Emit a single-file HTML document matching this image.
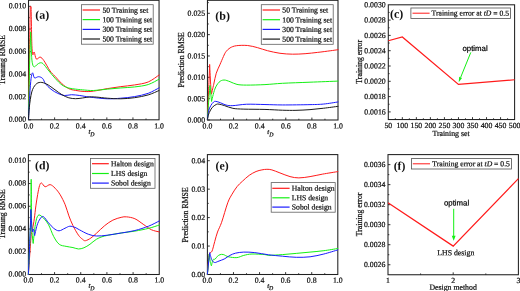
<!DOCTYPE html>
<html lang="en">
<head>
<meta charset="utf-8">
<title>Training and prediction RMSE</title>
<style>
html,body{margin:0;padding:0;background:#fff;}
body{width:520px;height:291px;overflow:hidden;}
svg{display:block;}
text{font-kerning:normal;}
</style>
</head>
<body>
<svg width="520" height="291" viewBox="0 0 520 291">
<rect width="520" height="291" fill="#fff"/>
<rect x="28.5" y="0.3" width="130.55" height="119.5" fill="none" stroke="#202020" stroke-width="1.05"/>
<path d="M54.61 119.8v-2.4M80.72 119.8v-2.4M106.83 119.8v-2.4M132.94 119.8v-2.4" stroke="#202020" stroke-width="0.9" fill="none"/>
<path d="M41.55 119.8v-1.3M67.67 119.8v-1.3M93.78 119.8v-1.3M119.89 119.8v-1.3M146 119.8v-1.3" stroke="#202020" stroke-width="0.9" fill="none"/>
<text x="28.5" y="128.4" font-size="7.8" text-anchor="middle" font-family='"Liberation Serif", "Times New Roman", serif' fill="#111" transform="rotate(0.03 28.5 128.4)" stroke="#111" stroke-width="0.22">0.0</text>
<text x="54.61" y="128.4" font-size="7.8" text-anchor="middle" font-family='"Liberation Serif", "Times New Roman", serif' fill="#111" transform="rotate(0.03 54.61 128.4)" stroke="#111" stroke-width="0.22">0.2</text>
<text x="80.72" y="128.4" font-size="7.8" text-anchor="middle" font-family='"Liberation Serif", "Times New Roman", serif' fill="#111" transform="rotate(0.03 80.72 128.4)" stroke="#111" stroke-width="0.22">0.4</text>
<text x="106.83" y="128.4" font-size="7.8" text-anchor="middle" font-family='"Liberation Serif", "Times New Roman", serif' fill="#111" transform="rotate(0.03 106.83 128.4)" stroke="#111" stroke-width="0.22">0.6</text>
<text x="132.94" y="128.4" font-size="7.8" text-anchor="middle" font-family='"Liberation Serif", "Times New Roman", serif' fill="#111" transform="rotate(0.03 132.94 128.4)" stroke="#111" stroke-width="0.22">0.8</text>
<text x="159.05" y="128.4" font-size="7.8" text-anchor="middle" font-family='"Liberation Serif", "Times New Roman", serif' fill="#111" transform="rotate(0.03 159.05 128.4)" stroke="#111" stroke-width="0.22">1.0</text>
<path d="M28.5 119.8h2.4M28.5 97.1h2.4M28.5 74.4h2.4M28.5 51.7h2.4M28.5 29h2.4M28.5 6.3h2.4" stroke="#202020" stroke-width="0.9" fill="none"/>
<path d="M28.5 108.45h1.3M28.5 85.75h1.3M28.5 63.05h1.3M28.5 40.35h1.3M28.5 17.65h1.3" stroke="#202020" stroke-width="0.9" fill="none"/>
<text x="26.2" y="121.85" font-size="7.8" text-anchor="end" font-family='"Liberation Serif", "Times New Roman", serif' fill="#111" transform="rotate(0.03 26.2 121.85)" stroke="#111" stroke-width="0.22">0.000</text>
<text x="26.2" y="99.15" font-size="7.8" text-anchor="end" font-family='"Liberation Serif", "Times New Roman", serif' fill="#111" transform="rotate(0.03 26.2 99.15)" stroke="#111" stroke-width="0.22">0.002</text>
<text x="26.2" y="76.45" font-size="7.8" text-anchor="end" font-family='"Liberation Serif", "Times New Roman", serif' fill="#111" transform="rotate(0.03 26.2 76.45)" stroke="#111" stroke-width="0.22">0.004</text>
<text x="26.2" y="53.75" font-size="7.8" text-anchor="end" font-family='"Liberation Serif", "Times New Roman", serif' fill="#111" transform="rotate(0.03 26.2 53.75)" stroke="#111" stroke-width="0.22">0.006</text>
<text x="26.2" y="31.05" font-size="7.8" text-anchor="end" font-family='"Liberation Serif", "Times New Roman", serif' fill="#111" transform="rotate(0.03 26.2 31.05)" stroke="#111" stroke-width="0.22">0.008</text>
<text x="26.2" y="8.35" font-size="7.8" text-anchor="end" font-family='"Liberation Serif", "Times New Roman", serif' fill="#111" transform="rotate(0.03 26.2 8.35)" stroke="#111" stroke-width="0.22">0.010</text>
<text x="5.4" y="59.8" font-size="7.8" text-anchor="middle" font-family='"Liberation Serif", "Times New Roman", serif' fill="#111" transform="rotate(-90 5.4 59.8)" stroke="#111" stroke-width="0.22">Training RMSE</text>
<text x="88.38" y="133.7" font-size="7.8" text-anchor="start" font-family='"Liberation Serif", "Times New Roman", serif' fill="#111" transform="rotate(0.03 88.38 133.7)" stroke="#111" stroke-width="0.22"><tspan font-style="italic" font-size="6.9">t</tspan><tspan font-style="italic" font-size="5.8" dy="2.6">D</tspan></text>
<path d="M28.5 119.5C28.5 119.5 29.4 59.36 29.69 40.55C29.96 23.57 30.29 6.6 30.29 6.6L31.09 6.6C31.09 6.6 31.6 37.51 31.88 45.53C32.04 50.12 32.4 53.59 32.78 54.69C33.16 55.78 33.57 51.37 34.17 52.1C34.77 52.83 35.37 58.24 36.36 59.07C37.36 59.9 38.88 56.81 40.14 57.08C41.4 57.34 42.41 58.54 43.92 60.66C45.58 62.98 48.24 68.39 50.09 71.01C51.95 73.64 53.09 74.27 55.07 76.39C57.04 78.51 59.64 81.72 61.93 83.76C64.22 85.8 66.51 87.52 68.8 88.64C71.09 89.75 73 89.95 75.67 90.43C78.34 90.91 81.85 91.41 84.82 91.52C87.79 91.64 89.75 91.61 93.48 91.12C97.21 90.64 102.65 89.38 107.21 88.64C111.77 87.89 116.28 87.26 120.84 86.64C125.4 86.03 130.01 85.73 134.57 84.95C139.13 84.17 144.12 83.62 148.2 81.97C152.28 80.31 157.24 76.16 159.05 75" fill="none" stroke="#ff1a1a" stroke-width="1.0" stroke-linejoin="round" stroke-linecap="round"/>
<path d="M28.5 119.5C28.5 119.5 29.33 75.06 29.69 60.46C30.05 46.17 30.69 31.89 30.69 31.89C30.69 31.89 31.32 51.91 31.68 57.47C31.94 61.39 32.41 63.68 32.88 65.24C33.2 66.32 33.77 66.93 34.47 66.83C35.17 66.73 36.15 65.31 37.06 64.64C37.97 63.98 38.95 63.02 39.94 62.85C40.94 62.68 41.82 62.6 43.03 63.65C44.4 64.84 46.2 67.58 48.2 70.02C50.21 72.46 52.78 75.79 55.07 78.28C57.36 80.77 59.64 83.33 61.93 84.95C64.22 86.58 66.51 87.34 68.8 88.04C71.09 88.74 73.39 88.84 75.67 89.13C77.94 89.43 79.46 89.6 82.43 89.83C85.4 90.06 89.35 90.64 93.48 90.53C97.61 90.41 102.65 89.57 107.21 89.13C111.77 88.7 116.28 88.3 120.84 87.94C125.4 87.57 130.01 87.51 134.57 86.94C139.13 86.38 144.12 85.85 148.2 84.55C152.28 83.26 157.24 80.07 159.05 79.18" fill="none" stroke="#14f014" stroke-width="1.0" stroke-linejoin="round" stroke-linecap="round"/>
<path d="M28.5 119.5C28.5 119.5 29.26 102.16 29.69 95.31C30.13 88.45 30.61 82.13 31.09 78.38C31.45 75.52 32.02 72.89 32.58 72.81C33.14 72.72 33.46 77.24 34.47 77.88C35.48 78.53 37.27 76.57 38.65 76.69C40.03 76.8 41.58 77.4 42.73 78.58C43.87 79.76 44.14 81.98 45.52 83.76C46.89 85.53 48.93 87.62 50.99 89.23C53.04 90.84 55.58 92.37 57.85 93.41C60.13 94.46 62.35 95.29 64.62 95.51C66.89 95.72 68.97 94.71 71.49 94.71C74.01 94.71 76.69 95.11 79.74 95.51C82.8 95.9 85.22 96.55 89.79 97.1C94.37 97.65 102.03 98.61 107.21 98.79C112.38 98.97 116.28 98.56 120.84 98.19C125.4 97.83 130.01 97.41 134.57 96.6C139.13 95.79 144.12 94.78 148.2 93.32C152.28 91.86 157.24 88.75 159.05 87.84" fill="none" stroke="#1a1aff" stroke-width="1.0" stroke-linejoin="round" stroke-linecap="round"/>
<path d="M28.5 119.5C28.5 119.5 28.75 111.85 29.3 107.25C29.84 102.66 30.72 95.7 31.78 91.92C32.85 88.14 34.22 86.15 35.66 84.55C37.11 82.96 38.58 82.43 40.44 82.36C42.3 82.3 44.37 82.91 46.81 84.16C49.25 85.4 52.55 88.07 55.07 89.83C57.59 91.59 59.64 93.38 61.93 94.71C64.22 96.04 66.51 97.13 68.8 97.8C71.09 98.46 73.39 98.66 75.67 98.69C77.94 98.72 80.08 98.29 82.43 97.99C84.79 97.7 87.41 97.05 89.79 96.9C92.18 96.75 93.86 96.88 96.76 97.1C99.66 97.31 103.19 97.91 107.21 98.19C111.22 98.48 116.28 98.87 120.84 98.79C125.4 98.71 130.01 98.34 134.57 97.7C139.13 97.05 144.12 96.1 148.2 94.91C152.28 93.71 157.24 91.26 159.05 90.53" fill="none" stroke="#1a1a1a" stroke-width="1.0" stroke-linejoin="round" stroke-linecap="round"/>
<rect x="81.4" y="4.7" width="71.8" height="39.5" fill="#fff" stroke="#606060" stroke-width="0.8"/>
<path d="M82.6 10H100" stroke="#ff1a1a" stroke-width="1.2"/>
<text x="102.4" y="12.7" font-size="7.66" text-anchor="start" font-family='"Liberation Serif", "Times New Roman", serif' fill="#111" transform="rotate(0.03 102.4 12.7)" stroke="#111" stroke-width="0.22">50 Training set</text>
<path d="M82.6 19.6H100" stroke="#14f014" stroke-width="1.2"/>
<text x="102.4" y="22.25" font-size="7.66" text-anchor="start" font-family='"Liberation Serif", "Times New Roman", serif' fill="#111" transform="rotate(0.03 102.4 22.25)" stroke="#111" stroke-width="0.22">100 Training set</text>
<path d="M82.6 29.4H100" stroke="#1a1aff" stroke-width="1.2"/>
<text x="102.4" y="31.85" font-size="7.66" text-anchor="start" font-family='"Liberation Serif", "Times New Roman", serif' fill="#111" transform="rotate(0.03 102.4 31.85)" stroke="#111" stroke-width="0.22">300 Training set</text>
<path d="M82.6 39H100" stroke="#1a1a1a" stroke-width="1.2"/>
<text x="102.4" y="41.4" font-size="7.66" text-anchor="start" font-family='"Liberation Serif", "Times New Roman", serif' fill="#111" transform="rotate(0.03 102.4 41.4)" stroke="#111" stroke-width="0.22">500 Training set</text>
<text x="35.3" y="18.8" font-size="12" text-anchor="start" font-family='"Liberation Serif", "Times New Roman", serif' fill="#111" font-weight="bold" transform="rotate(0.03 35.3 18.8)">(a)</text>
<rect x="207.45" y="0.3" width="130.55" height="119.7" fill="none" stroke="#202020" stroke-width="1.05"/>
<path d="M233.56 120v-2.4M259.67 120v-2.4M285.78 120v-2.4M311.89 120v-2.4" stroke="#202020" stroke-width="0.9" fill="none"/>
<path d="M220.5 120v-1.3M246.62 120v-1.3M272.73 120v-1.3M298.83 120v-1.3M324.94 120v-1.3" stroke="#202020" stroke-width="0.9" fill="none"/>
<text x="207.45" y="128.6" font-size="7.8" text-anchor="middle" font-family='"Liberation Serif", "Times New Roman", serif' fill="#111" transform="rotate(0.03 207.45 128.6)" stroke="#111" stroke-width="0.22">0.0</text>
<text x="233.56" y="128.6" font-size="7.8" text-anchor="middle" font-family='"Liberation Serif", "Times New Roman", serif' fill="#111" transform="rotate(0.03 233.56 128.6)" stroke="#111" stroke-width="0.22">0.2</text>
<text x="259.67" y="128.6" font-size="7.8" text-anchor="middle" font-family='"Liberation Serif", "Times New Roman", serif' fill="#111" transform="rotate(0.03 259.67 128.6)" stroke="#111" stroke-width="0.22">0.4</text>
<text x="285.78" y="128.6" font-size="7.8" text-anchor="middle" font-family='"Liberation Serif", "Times New Roman", serif' fill="#111" transform="rotate(0.03 285.78 128.6)" stroke="#111" stroke-width="0.22">0.6</text>
<text x="311.89" y="128.6" font-size="7.8" text-anchor="middle" font-family='"Liberation Serif", "Times New Roman", serif' fill="#111" transform="rotate(0.03 311.89 128.6)" stroke="#111" stroke-width="0.22">0.8</text>
<text x="338" y="128.6" font-size="7.8" text-anchor="middle" font-family='"Liberation Serif", "Times New Roman", serif' fill="#111" transform="rotate(0.03 338 128.6)" stroke="#111" stroke-width="0.22">1.0</text>
<path d="M207.45 120h2.4M207.45 98.66h2.4M207.45 77.32h2.4M207.45 55.98h2.4M207.45 34.64h2.4M207.45 13.3h2.4" stroke="#202020" stroke-width="0.9" fill="none"/>
<path d="M207.45 109.33h1.3M207.45 87.99h1.3M207.45 66.65h1.3M207.45 45.31h1.3M207.45 23.97h1.3M207.45 2.63h1.3" stroke="#202020" stroke-width="0.9" fill="none"/>
<text x="205.15" y="122.5" font-size="7.8" text-anchor="end" font-family='"Liberation Serif", "Times New Roman", serif' fill="#111" transform="rotate(0.03 205.15 122.5)" stroke="#111" stroke-width="0.22">0.000</text>
<text x="205.15" y="101.16" font-size="7.8" text-anchor="end" font-family='"Liberation Serif", "Times New Roman", serif' fill="#111" transform="rotate(0.03 205.15 101.16)" stroke="#111" stroke-width="0.22">0.005</text>
<text x="205.15" y="79.82" font-size="7.8" text-anchor="end" font-family='"Liberation Serif", "Times New Roman", serif' fill="#111" transform="rotate(0.03 205.15 79.82)" stroke="#111" stroke-width="0.22">0.010</text>
<text x="205.15" y="58.48" font-size="7.8" text-anchor="end" font-family='"Liberation Serif", "Times New Roman", serif' fill="#111" transform="rotate(0.03 205.15 58.48)" stroke="#111" stroke-width="0.22">0.015</text>
<text x="205.15" y="37.14" font-size="7.8" text-anchor="end" font-family='"Liberation Serif", "Times New Roman", serif' fill="#111" transform="rotate(0.03 205.15 37.14)" stroke="#111" stroke-width="0.22">0.020</text>
<text x="205.15" y="15.8" font-size="7.8" text-anchor="end" font-family='"Liberation Serif", "Times New Roman", serif' fill="#111" transform="rotate(0.03 205.15 15.8)" stroke="#111" stroke-width="0.22">0.025</text>
<text x="184" y="59.8" font-size="7.8" text-anchor="middle" font-family='"Liberation Serif", "Times New Roman", serif' fill="#111" transform="rotate(-90 184 59.8)" stroke="#111" stroke-width="0.22">Prediction RMSE</text>
<text x="267.33" y="133.9" font-size="7.8" text-anchor="start" font-family='"Liberation Serif", "Times New Roman", serif' fill="#111" transform="rotate(0.03 267.33 133.9)" stroke="#111" stroke-width="0.22"><tspan font-style="italic" font-size="6.9">t</tspan><tspan font-style="italic" font-size="5.8" dy="2.6">D</tspan></text>
<path d="M207.45 119.5C207.45 119.5 208.28 99.36 208.65 90.18C209.02 81.01 209.65 64.45 209.65 64.45C209.65 64.45 210.35 79.25 210.65 84.2C210.95 89.15 211.45 94.17 211.45 94.17C211.45 94.17 212.95 87.69 213.75 84.2C214.55 80.71 215.24 76.45 216.25 73.23C217.27 70.01 218.65 67.65 219.85 64.85C221.06 62.06 222.44 58.67 223.46 56.48C224.47 54.28 224.86 53.12 225.96 51.69C227.06 50.26 228.32 48.9 230.06 47.9C231.79 46.9 233.43 46.11 236.36 45.71C239.3 45.31 244.11 45.18 247.67 45.51C251.22 45.84 254.37 46.84 257.67 47.7C260.97 48.57 263.75 49.76 267.47 50.69C271.19 51.62 275.79 52.7 279.98 53.29C284.16 53.87 288.4 54.12 292.58 54.18C296.77 54.25 300.9 53.98 305.09 53.69C309.27 53.39 313.51 52.87 317.69 52.39C321.88 51.91 326.81 51.24 330.2 50.79C333.58 50.34 336.7 49.88 338 49.7" fill="none" stroke="#ff1a1a" stroke-width="1.0" stroke-linejoin="round" stroke-linecap="round"/>
<path d="M207.45 119.5C207.45 119.5 208.33 105.82 208.75 100.15C209.17 94.49 209.95 85.5 209.95 85.5L211.55 101.45C211.55 101.45 213.6 92.29 214.85 89.09C216.1 85.88 217.54 83.72 219.05 82.2C220.57 80.69 222.12 80.09 223.96 80.01C225.79 79.93 227.89 80.97 230.06 81.71C232.23 82.44 234.21 83.83 236.96 84.4C239.71 84.96 241.9 85.06 246.56 85.1C251.23 85.13 258.99 84.9 264.97 84.6C270.96 84.3 274.98 83.7 282.48 83.3C289.98 82.9 300.74 82.57 309.99 82.2C319.24 81.84 333.33 81.29 338 81.11" fill="none" stroke="#14f014" stroke-width="1.0" stroke-linejoin="round" stroke-linecap="round"/>
<path d="M207.45 119.5C207.45 119.5 208 113.43 208.55 111.12C209.1 108.81 209.92 107.15 210.75 105.64C211.58 104.13 212.72 102.76 213.55 102.05C214.39 101.33 214.6 101.23 215.75 101.35C216.9 101.47 218.75 102.13 220.45 102.75C222.16 103.36 223.89 104.56 225.96 105.04C228.02 105.52 229.43 105.77 232.86 105.64C236.29 105.51 241.21 104.43 246.56 104.24C251.92 104.06 258.99 104.43 264.97 104.54C270.96 104.66 274.98 104.92 282.48 104.94C289.98 104.96 303.12 104.79 309.99 104.64C316.85 104.49 319.03 104.49 323.69 104.04C328.36 103.59 335.62 102.3 338 101.95" fill="none" stroke="#1a1aff" stroke-width="1.0" stroke-linejoin="round" stroke-linecap="round"/>
<path d="M207.45 119.5C207.45 119.5 207.93 116.79 208.25 115.61C208.57 114.43 208.7 113.77 209.35 112.42C210 111.07 211 108.86 212.15 107.53C213.3 106.2 215.1 105.01 216.25 104.44C217.4 103.88 217.67 103.94 219.05 104.14C220.44 104.34 222.26 104.94 224.56 105.64C226.86 106.34 229.64 107.75 232.86 108.33C236.08 108.91 238.51 108.95 243.86 109.13C249.22 109.31 258.54 109.25 264.97 109.43C271.41 109.61 277.31 110.08 282.48 110.23C287.65 110.38 291.4 110.43 295.98 110.33C300.57 110.23 305.37 109.98 309.99 109.63C314.61 109.28 319.03 108.78 323.69 108.23C328.36 107.68 335.62 106.65 338 106.34" fill="none" stroke="#1a1a1a" stroke-width="1.0" stroke-linejoin="round" stroke-linecap="round"/>
<rect x="261.3" y="4.7" width="71.9" height="39.6" fill="#fff" stroke="#606060" stroke-width="0.8"/>
<path d="M262.6 10H280" stroke="#ff1a1a" stroke-width="1.2"/>
<text x="282.3" y="12.6" font-size="7.66" text-anchor="start" font-family='"Liberation Serif", "Times New Roman", serif' fill="#111" transform="rotate(0.03 282.3 12.6)" stroke="#111" stroke-width="0.22">50 Training set</text>
<path d="M262.6 19.7H280" stroke="#14f014" stroke-width="1.2"/>
<text x="282.3" y="22.4" font-size="7.66" text-anchor="start" font-family='"Liberation Serif", "Times New Roman", serif' fill="#111" transform="rotate(0.03 282.3 22.4)" stroke="#111" stroke-width="0.22">100 Training set</text>
<path d="M262.6 29.4H280" stroke="#1a1aff" stroke-width="1.2"/>
<text x="282.3" y="32.1" font-size="7.66" text-anchor="start" font-family='"Liberation Serif", "Times New Roman", serif' fill="#111" transform="rotate(0.03 282.3 32.1)" stroke="#111" stroke-width="0.22">300 Training set</text>
<path d="M262.6 39.1H280" stroke="#1a1a1a" stroke-width="1.2"/>
<text x="282.3" y="41.8" font-size="7.66" text-anchor="start" font-family='"Liberation Serif", "Times New Roman", serif' fill="#111" transform="rotate(0.03 282.3 41.8)" stroke="#111" stroke-width="0.22">500 Training set</text>
<text x="215.3" y="19.7" font-size="12" text-anchor="start" font-family='"Liberation Serif", "Times New Roman", serif' fill="#111" font-weight="bold" transform="rotate(0.03 215.3 19.7)">(b)</text>
<rect x="388.3" y="4.8" width="126.3" height="114.75" fill="none" stroke="#202020" stroke-width="1.05"/>
<path d="M402.33 119.55v-2.4M416.37 119.55v-2.4M430.4 119.55v-2.4M444.43 119.55v-2.4M458.47 119.55v-2.4M472.5 119.55v-2.4M486.53 119.55v-2.4M500.57 119.55v-2.4" stroke="#202020" stroke-width="0.9" fill="none"/>
<path d="M395.32 119.55v-1.3M409.35 119.55v-1.3M423.38 119.55v-1.3M437.42 119.55v-1.3M451.45 119.55v-1.3M465.48 119.55v-1.3M479.52 119.55v-1.3M493.55 119.55v-1.3M507.58 119.55v-1.3" stroke="#202020" stroke-width="0.9" fill="none"/>
<text x="388.3" y="128.05" font-size="7.8" text-anchor="middle" font-family='"Liberation Serif", "Times New Roman", serif' fill="#111" transform="rotate(0.03 388.3 128.05)" stroke="#111" stroke-width="0.22">50</text>
<text x="402.33" y="128.05" font-size="7.8" text-anchor="middle" font-family='"Liberation Serif", "Times New Roman", serif' fill="#111" transform="rotate(0.03 402.33 128.05)" stroke="#111" stroke-width="0.22">100</text>
<text x="416.37" y="128.05" font-size="7.8" text-anchor="middle" font-family='"Liberation Serif", "Times New Roman", serif' fill="#111" transform="rotate(0.03 416.37 128.05)" stroke="#111" stroke-width="0.22">150</text>
<text x="430.4" y="128.05" font-size="7.8" text-anchor="middle" font-family='"Liberation Serif", "Times New Roman", serif' fill="#111" transform="rotate(0.03 430.4 128.05)" stroke="#111" stroke-width="0.22">200</text>
<text x="444.43" y="128.05" font-size="7.8" text-anchor="middle" font-family='"Liberation Serif", "Times New Roman", serif' fill="#111" transform="rotate(0.03 444.43 128.05)" stroke="#111" stroke-width="0.22">250</text>
<text x="458.47" y="128.05" font-size="7.8" text-anchor="middle" font-family='"Liberation Serif", "Times New Roman", serif' fill="#111" transform="rotate(0.03 458.47 128.05)" stroke="#111" stroke-width="0.22">300</text>
<text x="472.5" y="128.05" font-size="7.8" text-anchor="middle" font-family='"Liberation Serif", "Times New Roman", serif' fill="#111" transform="rotate(0.03 472.5 128.05)" stroke="#111" stroke-width="0.22">350</text>
<text x="486.53" y="128.05" font-size="7.8" text-anchor="middle" font-family='"Liberation Serif", "Times New Roman", serif' fill="#111" transform="rotate(0.03 486.53 128.05)" stroke="#111" stroke-width="0.22">400</text>
<text x="500.57" y="128.05" font-size="7.8" text-anchor="middle" font-family='"Liberation Serif", "Times New Roman", serif' fill="#111" transform="rotate(0.03 500.57 128.05)" stroke="#111" stroke-width="0.22">450</text>
<text x="514.6" y="128.05" font-size="7.8" text-anchor="middle" font-family='"Liberation Serif", "Times New Roman", serif' fill="#111" transform="rotate(0.03 514.6 128.05)" stroke="#111" stroke-width="0.22">500</text>
<path d="M388.3 111.9h2.4M388.3 96.6h2.4M388.3 81.3h2.4M388.3 66h2.4M388.3 50.7h2.4M388.3 35.4h2.4M388.3 20.1h2.4" stroke="#202020" stroke-width="0.9" fill="none"/>
<path d="M388.3 104.25h1.3M388.3 88.95h1.3M388.3 73.65h1.3M388.3 58.35h1.3M388.3 43.05h1.3M388.3 27.75h1.3M388.3 12.45h1.3" stroke="#202020" stroke-width="0.9" fill="none"/>
<text x="385.7" y="114.4" font-size="7.8" text-anchor="end" font-family='"Liberation Serif", "Times New Roman", serif' fill="#111" transform="rotate(0.03 385.7 114.4)" stroke="#111" stroke-width="0.22">0.0016</text>
<text x="385.7" y="99.1" font-size="7.8" text-anchor="end" font-family='"Liberation Serif", "Times New Roman", serif' fill="#111" transform="rotate(0.03 385.7 99.1)" stroke="#111" stroke-width="0.22">0.0018</text>
<text x="385.7" y="83.8" font-size="7.8" text-anchor="end" font-family='"Liberation Serif", "Times New Roman", serif' fill="#111" transform="rotate(0.03 385.7 83.8)" stroke="#111" stroke-width="0.22">0.0020</text>
<text x="385.7" y="68.5" font-size="7.8" text-anchor="end" font-family='"Liberation Serif", "Times New Roman", serif' fill="#111" transform="rotate(0.03 385.7 68.5)" stroke="#111" stroke-width="0.22">0.0022</text>
<text x="385.7" y="53.2" font-size="7.8" text-anchor="end" font-family='"Liberation Serif", "Times New Roman", serif' fill="#111" transform="rotate(0.03 385.7 53.2)" stroke="#111" stroke-width="0.22">0.0024</text>
<text x="385.7" y="37.9" font-size="7.8" text-anchor="end" font-family='"Liberation Serif", "Times New Roman", serif' fill="#111" transform="rotate(0.03 385.7 37.9)" stroke="#111" stroke-width="0.22">0.0026</text>
<text x="385.7" y="22.6" font-size="7.8" text-anchor="end" font-family='"Liberation Serif", "Times New Roman", serif' fill="#111" transform="rotate(0.03 385.7 22.6)" stroke="#111" stroke-width="0.22">0.0028</text>
<text x="385.7" y="7.3" font-size="7.8" text-anchor="end" font-family='"Liberation Serif", "Times New Roman", serif' fill="#111" transform="rotate(0.03 385.7 7.3)" stroke="#111" stroke-width="0.22">0.0030</text>
<text x="362.1" y="61.8" font-size="7.8" text-anchor="middle" font-family='"Liberation Serif", "Times New Roman", serif' fill="#111" transform="rotate(-90 362.1 61.8)" stroke="#111" stroke-width="0.22">Training error</text>
<text x="451" y="136" font-size="7.8" text-anchor="middle" font-family='"Liberation Serif", "Times New Roman", serif' fill="#111" transform="rotate(0.03 451 136)" stroke="#111" stroke-width="0.22">Training set</text>
<polyline points="388.3,40.75 402.33,36.93 458.47,84.36 514.6,79.77" fill="none" stroke="#ff1a1a" stroke-width="1.2" stroke-linejoin="miter"/>
<rect x="410.9" y="8.0" width="99.6" height="10.4" fill="#fff" stroke="#505050" stroke-width="0.8"/>
<path d="M412.5 13.2H429.6" stroke="#ff1a1a" stroke-width="1"/>
<text x="431.6" y="15.6" font-size="7.65" text-anchor="start" font-family='"Liberation Serif", "Times New Roman", serif' fill="#111" transform="rotate(0.03 431.6 15.6)" stroke="#111" stroke-width="0.22">Training error at <tspan font-style="italic">tD</tspan> = 0.5</text>
<text x="389.9" y="17.7" font-size="12" text-anchor="start" font-family='"Liberation Serif", "Times New Roman", serif' fill="#111" font-weight="bold" transform="rotate(0.03 389.9 17.7)">(c)</text>
<text x="475.1" y="51" font-size="7.8" text-anchor="middle" font-family='"Liberation Sans", Arial, sans-serif' fill="#000" transform="rotate(0.03 475.1 51)" stroke="#000" stroke-width="0.22">optimal</text>
<path d="M470.8 52.4L460.6 77.5" stroke="#14f014" stroke-width="1" fill="none"/>
<path d="M458.7 82.2L459.2 76.8L462.0 78.0Z" fill="#14f014"/>
<rect x="28.4" y="154.6" width="130.85" height="119.9" fill="none" stroke="#202020" stroke-width="1.05"/>
<path d="M54.57 274.5v-2.4M80.74 274.5v-2.4M106.91 274.5v-2.4M133.08 274.5v-2.4" stroke="#202020" stroke-width="0.9" fill="none"/>
<path d="M41.48 274.5v-1.3M67.66 274.5v-1.3M93.82 274.5v-1.3M120 274.5v-1.3M146.16 274.5v-1.3" stroke="#202020" stroke-width="0.9" fill="none"/>
<text x="28.4" y="282.6" font-size="7.8" text-anchor="middle" font-family='"Liberation Serif", "Times New Roman", serif' fill="#111" transform="rotate(0.03 28.4 282.6)" stroke="#111" stroke-width="0.22">0.0</text>
<text x="54.57" y="282.6" font-size="7.8" text-anchor="middle" font-family='"Liberation Serif", "Times New Roman", serif' fill="#111" transform="rotate(0.03 54.57 282.6)" stroke="#111" stroke-width="0.22">0.2</text>
<text x="80.74" y="282.6" font-size="7.8" text-anchor="middle" font-family='"Liberation Serif", "Times New Roman", serif' fill="#111" transform="rotate(0.03 80.74 282.6)" stroke="#111" stroke-width="0.22">0.4</text>
<text x="106.91" y="282.6" font-size="7.8" text-anchor="middle" font-family='"Liberation Serif", "Times New Roman", serif' fill="#111" transform="rotate(0.03 106.91 282.6)" stroke="#111" stroke-width="0.22">0.6</text>
<text x="133.08" y="282.6" font-size="7.8" text-anchor="middle" font-family='"Liberation Serif", "Times New Roman", serif' fill="#111" transform="rotate(0.03 133.08 282.6)" stroke="#111" stroke-width="0.22">0.8</text>
<text x="159.25" y="282.6" font-size="7.8" text-anchor="middle" font-family='"Liberation Serif", "Times New Roman", serif' fill="#111" transform="rotate(0.03 159.25 282.6)" stroke="#111" stroke-width="0.22">1.0</text>
<path d="M28.4 274.5h2.4M28.4 251.76h2.4M28.4 229.02h2.4M28.4 206.28h2.4M28.4 183.54h2.4M28.4 160.8h2.4" stroke="#202020" stroke-width="0.9" fill="none"/>
<path d="M28.4 263.13h1.3M28.4 240.39h1.3M28.4 217.65h1.3M28.4 194.91h1.3M28.4 172.17h1.3" stroke="#202020" stroke-width="0.9" fill="none"/>
<text x="26.1" y="276.55" font-size="7.8" text-anchor="end" font-family='"Liberation Serif", "Times New Roman", serif' fill="#111" transform="rotate(0.03 26.1 276.55)" stroke="#111" stroke-width="0.22">0.000</text>
<text x="26.1" y="253.81" font-size="7.8" text-anchor="end" font-family='"Liberation Serif", "Times New Roman", serif' fill="#111" transform="rotate(0.03 26.1 253.81)" stroke="#111" stroke-width="0.22">0.002</text>
<text x="26.1" y="231.07" font-size="7.8" text-anchor="end" font-family='"Liberation Serif", "Times New Roman", serif' fill="#111" transform="rotate(0.03 26.1 231.07)" stroke="#111" stroke-width="0.22">0.004</text>
<text x="26.1" y="208.33" font-size="7.8" text-anchor="end" font-family='"Liberation Serif", "Times New Roman", serif' fill="#111" transform="rotate(0.03 26.1 208.33)" stroke="#111" stroke-width="0.22">0.006</text>
<text x="26.1" y="185.59" font-size="7.8" text-anchor="end" font-family='"Liberation Serif", "Times New Roman", serif' fill="#111" transform="rotate(0.03 26.1 185.59)" stroke="#111" stroke-width="0.22">0.008</text>
<text x="26.1" y="162.85" font-size="7.8" text-anchor="end" font-family='"Liberation Serif", "Times New Roman", serif' fill="#111" transform="rotate(0.03 26.1 162.85)" stroke="#111" stroke-width="0.22">0.010</text>
<text x="5" y="214" font-size="7.8" text-anchor="middle" font-family='"Liberation Serif", "Times New Roman", serif' fill="#111" transform="rotate(-90 5 214)" stroke="#111" stroke-width="0.22">Training RMSE</text>
<text x="88.42" y="287.7" font-size="7.8" text-anchor="start" font-family='"Liberation Serif", "Times New Roman", serif' fill="#111" transform="rotate(0.03 88.42 287.7)" stroke="#111" stroke-width="0.22"><tspan font-style="italic" font-size="6.9">t</tspan><tspan font-style="italic" font-size="5.8" dy="2.6">D</tspan></text>
<path d="M28.4 274.5C28.4 274.5 29.31 260.95 29.8 254.25C30.28 247.55 30.81 238.63 31.29 234.31C31.63 231.25 32.19 230.9 32.69 228.32C33.19 225.75 33.75 222.59 34.28 218.85C34.82 215.11 35.31 209.95 35.88 205.88C36.45 201.81 37.06 197.8 37.68 194.41C38.29 191.02 38.94 187.45 39.57 185.53C40.07 184.01 40.53 182.74 41.47 182.94C42.4 183.14 43.71 186.45 45.16 186.73C46.6 187.01 48.48 184.39 50.14 184.64C51.8 184.89 53.45 186.53 55.13 188.23C56.81 189.92 58.54 192.05 60.21 194.81C61.89 197.57 63.76 201.28 65.2 204.78C66.65 208.29 67.6 212.38 68.89 215.85C70.19 219.33 71.39 222.4 72.98 225.63C74.58 228.85 76.87 232.93 78.47 235.2C80.06 237.48 81.39 238.38 82.56 239.29C83.72 240.21 84.05 240.91 85.45 240.69C86.84 240.47 89.1 239.23 90.93 238C92.76 236.77 94.12 235.37 96.42 233.31C98.71 231.25 101.95 227.82 104.7 225.63C107.44 223.43 110.13 221.52 112.87 220.14C115.62 218.76 118.86 217.9 121.15 217.35C123.45 216.8 124.34 216.62 126.64 216.85C128.93 217.08 132.16 217.52 134.92 218.75C137.67 219.98 140.45 222.4 143.19 224.23C145.94 226.06 148.69 228.44 151.37 229.72C154.05 231 157.94 231.55 159.25 231.91" fill="none" stroke="#ff1a1a" stroke-width="1.0" stroke-linejoin="round" stroke-linecap="round"/>
<path d="M28.4 274.5C28.4 274.5 30.33 231.73 30.79 215.85C31.26 199.98 31.19 179.25 31.19 179.25C31.19 179.25 31.36 215.12 31.69 225.83C31.97 234.68 33.19 243.48 33.19 243.48C33.19 243.48 34.57 229 35.38 224.33C36.18 219.76 36.96 216.72 38.07 215.46C39.19 214.19 40.48 215.38 42.06 216.75C43.76 218.22 46.3 220.92 48.25 224.23C50.19 227.54 51.9 233.26 53.73 236.6C55.56 239.94 57.16 242.65 59.22 244.28C61.28 245.91 63.81 245.83 66.1 246.37C68.39 246.92 70.92 247.14 72.98 247.57C75.04 248 76.64 248.93 78.47 248.97C80.29 249 82.04 248.55 83.95 247.77C85.86 246.99 87.86 245.69 89.94 244.28C92.01 242.87 93.96 240.67 96.42 239.29C98.88 237.91 100.57 237.05 104.7 236C108.82 234.95 116.12 233.82 121.15 233.01C126.19 232.19 130.33 231.9 134.92 231.11C139.5 230.33 144.62 229.34 148.68 228.32C152.73 227.31 157.49 225.58 159.25 225.03" fill="none" stroke="#14f014" stroke-width="1.0" stroke-linejoin="round" stroke-linecap="round"/>
<path d="M28.4 274.5C28.4 274.5 29.58 246.66 30 235.8C30.41 224.95 30.89 209.37 30.89 209.37C30.89 209.37 31.44 221.09 31.69 224.83C31.92 228.33 32.11 231.11 32.39 231.81C32.67 232.51 33 228.39 33.39 229.02C33.77 229.65 34.68 235.6 34.68 235.6C34.68 235.6 36.18 228.12 37.08 225.33C37.97 222.54 39.02 220.29 40.07 218.85C41.12 217.4 41.95 215.99 43.36 216.65C44.77 217.32 46.82 220.89 48.55 222.84C50.27 224.78 51.99 226.99 53.73 228.32C55.48 229.65 57.14 230.83 59.02 230.82C60.9 230.8 63.21 228.99 65 228.22C66.8 227.46 68.13 226.36 69.79 226.23C71.45 226.09 73.36 226.83 74.98 227.42C76.59 228.02 77.25 228.69 79.46 229.82C81.67 230.95 85.41 233.18 88.24 234.21C91.07 235.24 93.23 235.84 96.42 236C99.61 236.17 103.27 235.7 107.39 235.2C111.51 234.71 116.56 233.79 121.15 233.01C125.74 232.23 130.33 231.66 134.92 230.52C139.5 229.37 144.62 227.72 148.68 226.13C152.73 224.53 157.49 221.81 159.25 220.94" fill="none" stroke="#1a1aff" stroke-width="1.0" stroke-linejoin="round" stroke-linecap="round"/>
<rect x="90.5" y="158.5" width="64.5" height="29.8" fill="#fff" stroke="#606060" stroke-width="0.8"/>
<path d="M92 163.7H108.8" stroke="#ff1a1a" stroke-width="1.2"/>
<text x="111" y="166.2" font-size="7.66" text-anchor="start" font-family='"Liberation Serif", "Times New Roman", serif' fill="#111" transform="rotate(0.03 111 166.2)" stroke="#111" stroke-width="0.22">Halton design</text>
<path d="M92 173.5H108.8" stroke="#14f014" stroke-width="1.2"/>
<text x="111" y="176" font-size="7.66" text-anchor="start" font-family='"Liberation Serif", "Times New Roman", serif' fill="#111" transform="rotate(0.03 111 176)" stroke="#111" stroke-width="0.22">LHS design</text>
<path d="M92 183.1H108.8" stroke="#1a1aff" stroke-width="1.2"/>
<text x="111" y="185.6" font-size="7.66" text-anchor="start" font-family='"Liberation Serif", "Times New Roman", serif' fill="#111" transform="rotate(0.03 111 185.6)" stroke="#111" stroke-width="0.22">Sobol design</text>
<text x="35" y="169.3" font-size="11.8" text-anchor="start" font-family='"Liberation Serif", "Times New Roman", serif' fill="#111" font-weight="bold" transform="rotate(0.03 35 169.3)">(d)</text>
<rect x="207.4" y="154.6" width="130.4" height="119.9" fill="none" stroke="#202020" stroke-width="1.05"/>
<path d="M233.48 274.5v-2.4M259.56 274.5v-2.4M285.64 274.5v-2.4M311.72 274.5v-2.4" stroke="#202020" stroke-width="0.9" fill="none"/>
<path d="M220.44 274.5v-1.3M246.52 274.5v-1.3M272.6 274.5v-1.3M298.68 274.5v-1.3M324.76 274.5v-1.3" stroke="#202020" stroke-width="0.9" fill="none"/>
<text x="207.4" y="282.8" font-size="7.8" text-anchor="middle" font-family='"Liberation Serif", "Times New Roman", serif' fill="#111" transform="rotate(0.03 207.4 282.8)" stroke="#111" stroke-width="0.22">0.0</text>
<text x="233.48" y="282.8" font-size="7.8" text-anchor="middle" font-family='"Liberation Serif", "Times New Roman", serif' fill="#111" transform="rotate(0.03 233.48 282.8)" stroke="#111" stroke-width="0.22">0.2</text>
<text x="259.56" y="282.8" font-size="7.8" text-anchor="middle" font-family='"Liberation Serif", "Times New Roman", serif' fill="#111" transform="rotate(0.03 259.56 282.8)" stroke="#111" stroke-width="0.22">0.4</text>
<text x="285.64" y="282.8" font-size="7.8" text-anchor="middle" font-family='"Liberation Serif", "Times New Roman", serif' fill="#111" transform="rotate(0.03 285.64 282.8)" stroke="#111" stroke-width="0.22">0.6</text>
<text x="311.72" y="282.8" font-size="7.8" text-anchor="middle" font-family='"Liberation Serif", "Times New Roman", serif' fill="#111" transform="rotate(0.03 311.72 282.8)" stroke="#111" stroke-width="0.22">0.8</text>
<text x="337.8" y="282.8" font-size="7.8" text-anchor="middle" font-family='"Liberation Serif", "Times New Roman", serif' fill="#111" transform="rotate(0.03 337.8 282.8)" stroke="#111" stroke-width="0.22">1.0</text>
<path d="M207.4 274.5h2.4M207.4 246.05h2.4M207.4 217.6h2.4M207.4 189.15h2.4M207.4 160.7h2.4" stroke="#202020" stroke-width="0.9" fill="none"/>
<path d="M207.4 260.27h1.3M207.4 231.83h1.3M207.4 203.38h1.3M207.4 174.93h1.3" stroke="#202020" stroke-width="0.9" fill="none"/>
<text x="205.1" y="277" font-size="7.8" text-anchor="end" font-family='"Liberation Serif", "Times New Roman", serif' fill="#111" transform="rotate(0.03 205.1 277)" stroke="#111" stroke-width="0.22">0.00</text>
<text x="205.1" y="248.55" font-size="7.8" text-anchor="end" font-family='"Liberation Serif", "Times New Roman", serif' fill="#111" transform="rotate(0.03 205.1 248.55)" stroke="#111" stroke-width="0.22">0.01</text>
<text x="205.1" y="220.1" font-size="7.8" text-anchor="end" font-family='"Liberation Serif", "Times New Roman", serif' fill="#111" transform="rotate(0.03 205.1 220.1)" stroke="#111" stroke-width="0.22">0.02</text>
<text x="205.1" y="191.65" font-size="7.8" text-anchor="end" font-family='"Liberation Serif", "Times New Roman", serif' fill="#111" transform="rotate(0.03 205.1 191.65)" stroke="#111" stroke-width="0.22">0.03</text>
<text x="205.1" y="163.2" font-size="7.8" text-anchor="end" font-family='"Liberation Serif", "Times New Roman", serif' fill="#111" transform="rotate(0.03 205.1 163.2)" stroke="#111" stroke-width="0.22">0.04</text>
<text x="188.1" y="214.9" font-size="7.8" text-anchor="middle" font-family='"Liberation Serif", "Times New Roman", serif' fill="#111" transform="rotate(-90 188.1 214.9)" stroke="#111" stroke-width="0.22">Prediction RMSE</text>
<text x="267.2" y="288.1" font-size="7.8" text-anchor="start" font-family='"Liberation Serif", "Times New Roman", serif' fill="#111" transform="rotate(0.03 267.2 288.1)" stroke="#111" stroke-width="0.22"><tspan font-style="italic" font-size="6.9">t</tspan><tspan font-style="italic" font-size="5.8" dy="2.0">D</tspan></text>
<path d="M207.4 274.1C207.4 274.1 208.07 265.68 208.4 262.3C208.74 258.92 208.8 255.65 209.4 253.8C209.97 252.05 211.27 252.89 212.01 251.2C212.89 249.17 213.79 244.8 214.71 241.6C215.63 238.4 216.36 235.22 217.52 232C218.67 228.78 219.92 227.17 221.62 222.3C223.32 217.43 226 207.48 227.73 202.8C229.4 198.29 230.47 196.92 232.04 194.2C233.61 191.48 235.43 188.65 237.15 186.5C238.86 184.35 240.33 183.17 242.35 181.3C244.37 179.43 246.98 176.93 249.26 175.3C251.55 173.67 253.97 172.4 256.07 171.5C258.18 170.6 260.08 170.27 261.88 169.9C263.69 169.53 265.22 169.3 266.89 169.3C268.56 169.3 269.73 169.3 271.9 169.9C274.07 170.5 276.89 171.78 279.91 172.9C282.93 174.02 286.87 175.77 290.03 176.6C293.18 177.43 295.5 177.9 298.84 177.9C302.18 177.9 306.08 177.23 310.06 176.6C314.03 175.97 318.05 174.93 322.68 174.1C327.3 173.27 335.28 172.02 337.8 171.6" fill="none" stroke="#ff1a1a" stroke-width="1.0" stroke-linejoin="round" stroke-linecap="round"/>
<path d="M207.4 274.1C207.4 274.1 208.3 265.65 208.6 262.3C208.9 258.95 209.2 254 209.2 254C209.2 254 210.04 260.32 210.4 262.3C210.74 264.14 211.41 265.9 211.41 265.9C211.41 265.9 212.39 260.93 213.01 259.8C213.54 258.83 214.38 259.68 215.11 259.1C215.85 258.52 216.6 257.03 217.42 256.3C218.23 255.57 219.05 255 220.02 254.7C220.99 254.4 221.81 254.15 223.22 254.5C224.64 254.85 226.26 256.28 228.53 256.8C230.8 257.32 234.31 257.83 236.85 257.6C239.38 257.37 241.24 256 243.76 255.4C246.28 254.8 248.45 254.13 251.97 254C255.49 253.87 262.1 254.37 264.89 254.6C266.83 254.76 266.75 255.4 268.69 255.4C271.62 255.4 277.82 254.93 282.42 254.6C287.01 254.27 291.63 253.82 296.24 253.4C300.84 252.98 305.45 252.55 310.06 252.1C314.66 251.65 319.25 251.3 323.88 250.7C328.5 250.1 335.48 248.87 337.8 248.5" fill="none" stroke="#14f014" stroke-width="1.0" stroke-linejoin="round" stroke-linecap="round"/>
<path d="M207.4 274.1C207.4 274.1 208.4 263.88 208.8 260.3C209.2 256.72 209.8 252.6 209.8 252.6C209.8 252.6 210.92 257.95 211.71 259.6C212.49 261.25 213.49 262.18 214.51 262.5C215.53 262.82 216.68 261.88 217.82 261.5C218.95 261.12 220.15 260.67 221.32 260.2C222.49 259.73 223.39 259.5 224.83 258.7C226.26 257.9 228.17 256.32 229.93 255.4C231.7 254.48 233.14 253.75 235.44 253.2C237.75 252.65 240.53 252.2 243.76 252.1C246.98 252 250.62 252.15 254.77 252.6C258.93 253.05 264.09 254.2 268.69 254.8C273.3 255.4 277.82 255.78 282.42 256.2C287.01 256.62 291.63 257.2 296.24 257.3C300.84 257.4 305.45 257.35 310.06 256.8C314.66 256.25 319.25 255.15 323.88 254C328.5 252.85 335.48 250.58 337.8 249.9" fill="none" stroke="#1a1aff" stroke-width="1.0" stroke-linejoin="round" stroke-linecap="round"/>
<rect x="271.2" y="182.6" width="64" height="29.6" fill="#fff" stroke="#606060" stroke-width="0.8"/>
<path d="M272.3 188.3H289.6" stroke="#ff1a1a" stroke-width="1.2"/>
<text x="291.8" y="190.7" font-size="7.66" text-anchor="start" font-family='"Liberation Serif", "Times New Roman", serif' fill="#111" transform="rotate(0.03 291.8 190.7)" stroke="#111" stroke-width="0.22">Halton design</text>
<path d="M272.3 197.8H289.6" stroke="#14f014" stroke-width="1.2"/>
<text x="291.8" y="200.2" font-size="7.66" text-anchor="start" font-family='"Liberation Serif", "Times New Roman", serif' fill="#111" transform="rotate(0.03 291.8 200.2)" stroke="#111" stroke-width="0.22">LHS design</text>
<path d="M272.3 207.1H289.6" stroke="#1a1aff" stroke-width="1.2"/>
<text x="291.8" y="209.5" font-size="7.66" text-anchor="start" font-family='"Liberation Serif", "Times New Roman", serif' fill="#111" transform="rotate(0.03 291.8 209.5)" stroke="#111" stroke-width="0.22">Sobol design</text>
<text x="215.6" y="169.5" font-size="11.8" text-anchor="start" font-family='"Liberation Serif", "Times New Roman", serif' fill="#111" font-weight="bold" transform="rotate(0.03 215.6 169.5)">(e)</text>
<rect x="388" y="154.6" width="130.4" height="120.15" fill="none" stroke="#202020" stroke-width="1.05"/>
<path d="M453.2 274.75v-2.4" stroke="#202020" stroke-width="0.9" fill="none"/>
<path d="M420.6 274.75v-1.3M485.8 274.75v-1.3" stroke="#202020" stroke-width="0.9" fill="none"/>
<text x="388" y="282.95" font-size="7.8" text-anchor="middle" font-family='"Liberation Serif", "Times New Roman", serif' fill="#111" transform="rotate(0.03 388 282.95)" stroke="#111" stroke-width="0.22">1</text>
<text x="453.2" y="282.95" font-size="7.8" text-anchor="middle" font-family='"Liberation Serif", "Times New Roman", serif' fill="#111" transform="rotate(0.03 453.2 282.95)" stroke="#111" stroke-width="0.22">2</text>
<text x="518.4" y="282.95" font-size="7.8" text-anchor="middle" font-family='"Liberation Serif", "Times New Roman", serif' fill="#111" transform="rotate(0.03 518.4 282.95)" stroke="#111" stroke-width="0.22">3</text>
<path d="M388 264.74h2.4M388 244.71h2.4M388 224.69h2.4M388 204.66h2.4M388 184.64h2.4M388 164.61h2.4" stroke="#202020" stroke-width="0.9" fill="none"/>
<path d="M388 254.72h1.3M388 234.7h1.3M388 214.68h1.3M388 194.65h1.3M388 174.62h1.3" stroke="#202020" stroke-width="0.9" fill="none"/>
<text x="385.4" y="267.04" font-size="7.8" text-anchor="end" font-family='"Liberation Serif", "Times New Roman", serif' fill="#111" transform="rotate(0.03 385.4 267.04)" stroke="#111" stroke-width="0.22">0.0026</text>
<text x="385.4" y="247.01" font-size="7.8" text-anchor="end" font-family='"Liberation Serif", "Times New Roman", serif' fill="#111" transform="rotate(0.03 385.4 247.01)" stroke="#111" stroke-width="0.22">0.0028</text>
<text x="385.4" y="226.99" font-size="7.8" text-anchor="end" font-family='"Liberation Serif", "Times New Roman", serif' fill="#111" transform="rotate(0.03 385.4 226.99)" stroke="#111" stroke-width="0.22">0.0030</text>
<text x="385.4" y="206.96" font-size="7.8" text-anchor="end" font-family='"Liberation Serif", "Times New Roman", serif' fill="#111" transform="rotate(0.03 385.4 206.96)" stroke="#111" stroke-width="0.22">0.0032</text>
<text x="385.4" y="186.94" font-size="7.8" text-anchor="end" font-family='"Liberation Serif", "Times New Roman", serif' fill="#111" transform="rotate(0.03 385.4 186.94)" stroke="#111" stroke-width="0.22">0.0034</text>
<text x="385.4" y="166.91" font-size="7.8" text-anchor="end" font-family='"Liberation Serif", "Times New Roman", serif' fill="#111" transform="rotate(0.03 385.4 166.91)" stroke="#111" stroke-width="0.22">0.0036</text>
<text x="362.1" y="214.4" font-size="7.8" text-anchor="middle" font-family='"Liberation Serif", "Times New Roman", serif' fill="#111" transform="rotate(-90 362.1 214.4)" stroke="#111" stroke-width="0.22">Training error</text>
<text x="453.1" y="289.8" font-size="7.8" text-anchor="middle" font-family='"Liberation Serif", "Times New Roman", serif' fill="#111" transform="rotate(0.03 453.1 289.8)" stroke="#111" stroke-width="0.22">Design method</text>
<polyline points="388,202.66 453.2,246.11 518.4,178.63" fill="none" stroke="#ff1a1a" stroke-width="1.2" stroke-linejoin="miter"/>
<rect x="411.4" y="158.6" width="100.1" height="10.4" fill="#fff" stroke="#505050" stroke-width="0.8"/>
<path d="M412.8 163.8H430.0" stroke="#ff1a1a" stroke-width="1"/>
<text x="432.3" y="166.2" font-size="7.66" text-anchor="start" font-family='"Liberation Serif", "Times New Roman", serif' fill="#111" transform="rotate(0.03 432.3 166.2)" stroke="#111" stroke-width="0.22">Training error at <tspan font-style="italic">tD</tspan> = 0.5</text>
<text x="393.7" y="169.7" font-size="11.7" text-anchor="start" font-family='"Liberation Serif", "Times New Roman", serif' fill="#111" font-weight="bold" transform="rotate(0.03 393.7 169.7)">(f)</text>
<text x="456.6" y="205.4" font-size="7.8" text-anchor="middle" font-family='"Liberation Sans", Arial, sans-serif' fill="#000" transform="rotate(0.03 456.6 205.4)" stroke="#000" stroke-width="0.22">optimal</text>
<path d="M453.7 208.8V237.2" stroke="#14f014" stroke-width="1" fill="none"/>
<path d="M453.7 240.8L451.8 235.8L455.6 235.8Z" fill="#14f014"/>
<text x="455.8" y="255.2" font-size="7.8" text-anchor="middle" font-family='"Liberation Serif", "Times New Roman", serif' fill="#111" transform="rotate(0.03 455.8 255.2)" stroke="#111" stroke-width="0.22">LHS design</text>
</svg>
</body>
</html>
